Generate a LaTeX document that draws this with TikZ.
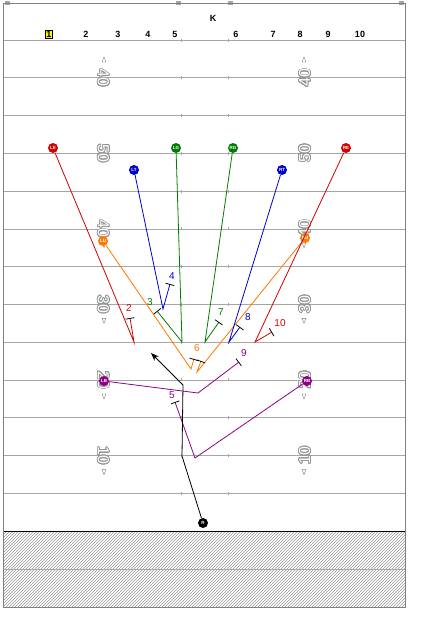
\documentclass[tikz,border=0pt]{standalone}
\usepackage{fontspec}
\setmainfont{Liberation Sans}
\usepackage[copies]{contour}
\contournumber{16}
\contourlength{0.8pt}
\usetikzlibrary{arrows.meta,patterns}
\definecolor{plred}{RGB}{210,0,0}
\definecolor{plgreen}{RGB}{0,125,0}
\definecolor{plblue}{RGB}{0,0,205}
\definecolor{plorange}{RGB}{255,120,0}
\definecolor{plpurple}{RGB}{140,0,140}
\newcommand{\hollow}[1]{\contour{gray!85}{\textcolor{white}{#1}}}

\begin{document}
\begin{tikzpicture}[x=1pt,y=-1pt,
  player/.style={circle,fill=#1,inner sep=0pt,minimum size=10pt,text=white,font=\fontsize{4.5}{4.5}\selectfont\bfseries},
  route/.style={#1,line width=0.8pt},
  block/.style={-{Bar[width=9pt,color=black]}},
  lbl/.style={text=#1,font=\fontsize{10}{10}\selectfont},
  yardnum/.style={font=\fontsize{16}{16}\selectfont},
  hashline/.style={gray!70,line width=0.6pt}]
\useasboundingbox (0,0) rectangle (430,640);
\fill[white] (0,0) rectangle (430,640);
\fill[pattern=north east lines,pattern color=gray!80] (3,531) rectangle (405,607);
\foreach \i [evaluate=\i as \y using 40+37.77*\i] in {0,...,12}
  \draw[hashline] (3,\y) -- (405,\y) (181,\y-1.5) -- (181,\y+1.5) (228,\y-1.5) -- (228,\y+1.5);
\foreach \j in {-1,...,14}
  \foreach \m [evaluate=\m as \y using 40+37.77*\j+7.554*\m] in {1,...,4}
    \draw[hashline] (5,\y) -- (10,\y) (176,\y) -- (181,\y) (228,\y) -- (233,\y) (399,\y) -- (404,\y);
\draw[gray!70,line width=0.6pt] (3,569) -- (405,569);
\draw[black,line width=1pt] (3,531) -- (405,531);
\draw[gray,line width=0.8pt] (3,3) rectangle (405,607);

\node[font=\fontsize{9}{9}\selectfont\bfseries] (kick) at (213,18) {K};
\node[draw,fill=yellow,inner sep=1pt,font=\fontsize{9}{9}\selectfont\bfseries] (s1) at (49,34) {1};
\foreach \x/\t in {86/2,118/3,148/4,175/5,236/6,273/7,300/8,328/9,360/10}
  \node[font=\fontsize{9}{9}\selectfont\bfseries] (s\t) at (\x,34) {\t};

\foreach \y/\t in {77.8/40,153.3/50,228.8/40,304.4/30,380/20,455.6/10} {
  \node[yardnum,rotate=-90] (yl\t) at (103,\y) {\hollow{\t}};
  \node[yardnum,rotate=90] (yr\t) at (305,\y) {\hollow{\t}};
}
\draw[gray] (102,62) -- (106,62) -- (104,57) -- cycle (302,62) -- (306,62) -- (304,57) -- cycle;
\foreach \y in {228.8,304.4,380,455.6}
  \draw[gray] (102,\y+14) -- (106,\y+14) -- (104,\y+19) -- cycle (302,\y+14) -- (306,\y+14) -- (304,\y+19) -- cycle;

\coordinate (le1) at (134,342);
\coordinate (le2) at (130,318);
\coordinate (lt1) at (163,309);
\coordinate (lt2) at (170,284);
\coordinate (lg1) at (182,342);
\coordinate (lg2) at (157,311);
\coordinate (rg1) at (205,342);
\coordinate (rg2) at (219,322);
\coordinate (lu1) at (191,369);
\coordinate (lu2) at (194,359);
\coordinate (ru1) at (197,372);
\coordinate (ru2) at (201,361);
\coordinate (rt1) at (229,342);
\coordinate (rt2) at (240,327);
\coordinate (re1) at (255,342);
\coordinate (re2) at (272,332);
\coordinate (lb1) at (198,393);
\coordinate (lb2) at (239,362);
\coordinate (rb1) at (195,458);
\coordinate (rb2) at (175,402);
\coordinate (r1) at (182,456);
\coordinate (r2) at (183,385);
\coordinate (r3) at (151,353);

\node[player=plred] (LE) at (53,148) {LE};
\node[player=plgreen] (LG) at (176,148) {LG};
\node[player=plgreen] (RG) at (233,148) {RG};
\node[player=plred] (RE) at (346,148) {RE};
\node[player=plblue] (LT) at (134,170) {LT};
\node[player=plblue] (RT) at (282,170) {RT};
\node[player=plorange] (LU) at (103,241) {LU};
\node[player=plorange] (RU) at (305,238) {RU};
\node[player=plpurple] (LB) at (104,381) {LB};
\node[player=plpurple] (RB) at (307,381) {RB};
\node[player=black] (R) at (203,523) {R};

\draw[route=plred,block] (LE) -- (le1) -- (le2);
\draw[route=plblue,block] (LT) -- (lt1) -- (lt2);
\draw[route=plgreen,block] (LG) -- (lg1) -- (lg2);
\draw[route=plgreen,block] (RG) -- (rg1) -- (rg2);
\draw[route=plorange,block] (LU) -- (lu1) -- (lu2);
\draw[route=plorange,block] (RU) -- (ru1) -- (ru2);
\draw[route=plblue,block] (RT) -- (rt1) -- (rt2);
\draw[route=plred,block] (RE) -- (re1) -- (re2);
\draw[route=plpurple,block] (LB) -- (lb1) -- (lb2);
\draw[route=plpurple,block] (RB) -- (rb1) -- (rb2);
\draw[route=black,-{Stealth[length=8pt,width=6pt]}] (R) -- (r1) -- (r2) -- (r3);

\node[lbl=plred] (n2) at (129,308) {2};
\node[lbl=plgreen] (n3) at (150,302) {3};
\node[lbl=plblue] (n4) at (172,276) {4};
\node[lbl=plpurple] (n5) at (172,395) {5};
\node[lbl=plorange] (n6) at (197,348) {6};
\node[lbl=plgreen] (n7) at (221,312) {7};
\node[lbl=plblue] (n8) at (248,317) {8};
\node[lbl=plpurple] (n9) at (244,353) {9};
\node[lbl=plred] (n10) at (280,323) {10};
\end{tikzpicture}
\end{document}
